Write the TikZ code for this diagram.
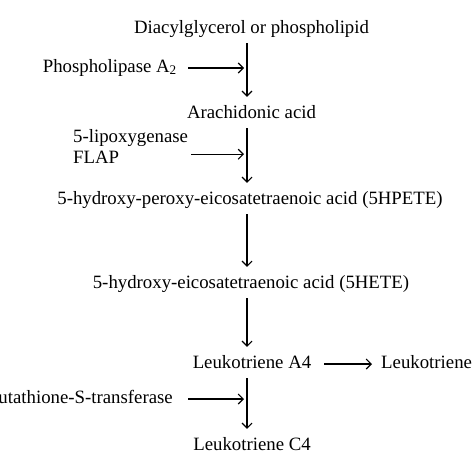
\documentclass[tikz,border=0pt]{standalone}
\usepackage{fontspec}
\setmainfont{Liberation Serif}
\usetikzlibrary{arrows.meta}

\begin{document}
\begin{tikzpicture}[x=1pt,y=-1pt,
		every node/.style={inner sep=0pt,text height=12pt,text depth=4pt,font=\fontsize{18.8}{21}\selectfont},
		flow/.style={-{Straight Barb[length=5pt,width=10pt]},line width=1.1pt},
		down/.style={flow,shorten <=6pt,shorten >=9pt}]
		\useasboundingbox (0,0) rectangle (474,474);
		\clip (0,0) rectangle (474,474);
		\coordinate (axis) at (247,0);
		\node [anchor=base] (dag) at (251.5,33) {Diacylglycerol or phospholipid};
		\node [anchor=base east] (pla) at (177,72) {Phospholipase A\textsubscript{2}};
		\node [anchor=base] (aa) at (251.5,118) {Arachidonic acid};
		\node [anchor=north west,align=left,text height=,text depth=] (lox) at (73,129) {5-lipoxygenase\\FLAP};
		\node [anchor=base] (hpete) at (250,204) {5-hydroxy-peroxy-eicosatetraenoic acid (5HPETE)};
		\node [anchor=base] (hete) at (251,288) {5-hydroxy-eicosatetraenoic acid (5HETE)};
		\node [anchor=base] (lta) at (252,368) {Leukotriene A4};
		\node [anchor=base west] (ltb) at (381,368) {Leukotriene B4};
		\node [anchor=base east] (gst) at (173,403) {Glutathione-S-transferase};
		\node [anchor=base] (ltc) at (252,450) {Leukotriene C4};
		% main pathway
		\draw [down] (dag.south -| axis) -- (aa.north -| axis);
		\draw [down] (aa.south -| axis) -- (hpete.north -| axis);
		\draw [down] (hpete.south -| axis) -- (hete.north -| axis);
		\draw [down] (hete.south -| axis) -- (lta.north -| axis);
		\draw [down] (lta.south -| axis) -- (ltc.north -| axis);
		\draw [flow,shorten <=13pt,shorten >=9pt] (lta.east) -- (ltb.west);
		% enzymes
		\draw [flow,shorten <=11pt,shorten >=3pt] (pla.east) -- (pla.east -| axis);
		\draw [flow,shorten <=3pt,shorten >=3pt] ([yshift=-8pt]lox.east) -- ([yshift=-8pt]lox.east -| axis);
		\draw [flow,shorten <=15pt,shorten >=3pt] (gst.east) -- (gst.east -| axis);
\end{tikzpicture}
\end{document}
